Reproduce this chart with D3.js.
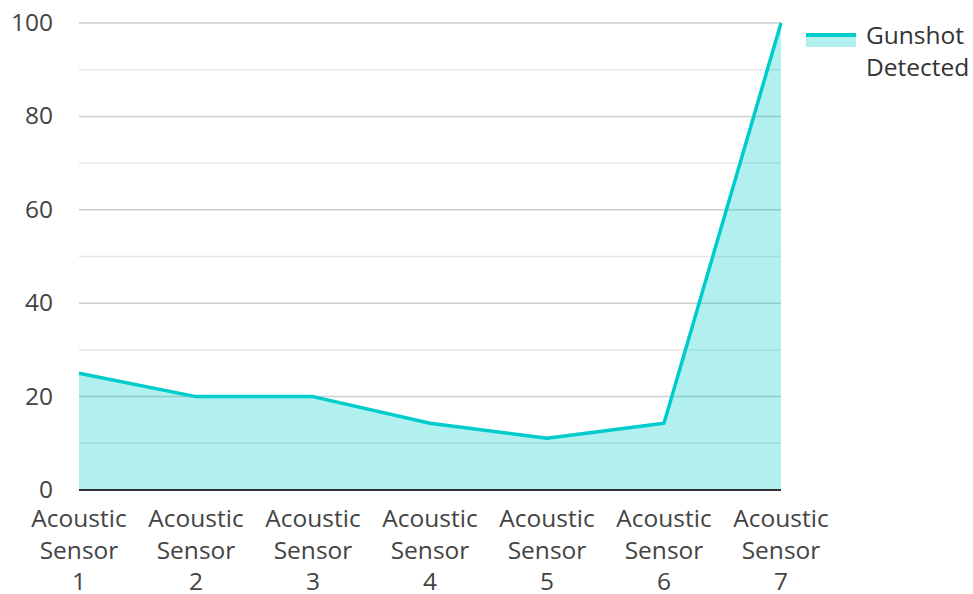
<!DOCTYPE html>
<meta charset="utf-8">
<style>
body { margin: 0; background: #fff; }
text { font-family: "Open Sans", "Noto Sans", sans-serif; fill: #444; }
.grid-major { stroke: #ccc; stroke-width: 1.5; }
.grid-minor { stroke: #e6e6e6; stroke-width: 1.5; }
.area { fill: #00cccc; fill-opacity: 0.3; }
.line { fill: none; stroke: #00cccc; stroke-width: 3.5; stroke-linejoin: round; }
</style>
<svg width="973" height="594"></svg>
<script src="https://d3js.org/d3.v7.min.js"></script>
<script>

var sensors = ["Acoustic Sensor 1", "Acoustic Sensor 2", "Acoustic Sensor 3", "Acoustic Sensor 4",
               "Acoustic Sensor 5", "Acoustic Sensor 6", "Acoustic Sensor 7"];
var gunshot = [25, 20, 20, 14.3, 11.1, 14.3, 100];
var yTicks = [0, 20, 40, 60, 80, 100];
var yMinor = [10, 30, 50, 70, 90];
var seriesName = ["Gunshot", "Detected"];

var svg = d3.select("svg"),
    plotLeft = 79, plotRight = 781, plotTop = 23, plotBottom = 490,
    fontSize = "24.5px";

var x = d3.scalePoint()
    .domain(sensors)
    .range([plotLeft, plotRight]);

var y = d3.scaleLinear()
    .domain([0, 100])
    .range([plotBottom, plotTop]);

svg.selectAll(".grid-minor")
  .data(yMinor)
  .enter().append("line")
    .attr("class", "grid-minor")
    .attr("x1", plotLeft).attr("x2", plotRight)
    .attr("y1", function(d) { return y(d); })
    .attr("y2", function(d) { return y(d); });

svg.selectAll(".grid-major")
  .data(yTicks.filter(function(d) { return d > 0; }))
  .enter().append("line")
    .attr("class", "grid-major")
    .attr("x1", plotLeft).attr("x2", plotRight)
    .attr("y1", function(d) { return y(d); })
    .attr("y2", function(d) { return y(d); });

svg.selectAll(".ylab")
  .data(yTicks)
  .enter().append("text")
    .attr("class", "ylab")
    .attr("x", 53)
    .attr("y", function(d) { return y(d) + 8; })
    .attr("text-anchor", "end")
    .style("font-size", fontSize)
    .text(function(d) { return d; });

var area = d3.area()
    .x(function(d, i) { return x(sensors[i]); })
    .y0(y(0))
    .y1(function(d) { return y(d); });

var line = d3.line()
    .x(function(d, i) { return x(sensors[i]); })
    .y(function(d) { return y(d); });

svg.append("path")
    .datum(gunshot)
    .attr("class", "area")
    .attr("d", area);

svg.append("path")
    .datum(gunshot)
    .attr("class", "line")
    .attr("d", line);

// baseline
svg.append("line")
    .attr("x1", plotLeft).attr("x2", plotRight)
    .attr("y1", y(0)).attr("y2", y(0))
    .attr("stroke", "#333").attr("stroke-width", 2);

var xlab = svg.selectAll(".xlab")
  .data(sensors)
  .enter().append("text")
    .attr("class", "xlab")
    .attr("text-anchor", "middle")
    .style("font-size", fontSize);

xlab.each(function(d) {
  var words = d.split(" "), t = d3.select(this);
  words.forEach(function(w, i) {
    t.append("tspan")
      .attr("x", x(d))
      .attr("y", 527 + i * 31.5)
      .text(w);
  });
});

// legend
var lg = svg.append("g").attr("transform", "translate(806,35)");
lg.append("rect").attr("x", 0).attr("y", 0).attr("width", 50).attr("height", 12)
    .attr("fill", "#00cccc").attr("fill-opacity", 0.3);
lg.append("line").attr("x1", 0).attr("x2", 50).attr("y1", 0).attr("y2", 0)
    .attr("stroke", "#00cccc").attr("stroke-width", 4);
lg.selectAll("text")
  .data(seriesName)
  .enter().append("text")
    .attr("x", 60)
    .attr("y", function(d, i) { return 9 + i * 31.5; })
    .style("font-size", fontSize)
    .style("fill", "#333")
    .text(function(d) { return d; });

</script>
